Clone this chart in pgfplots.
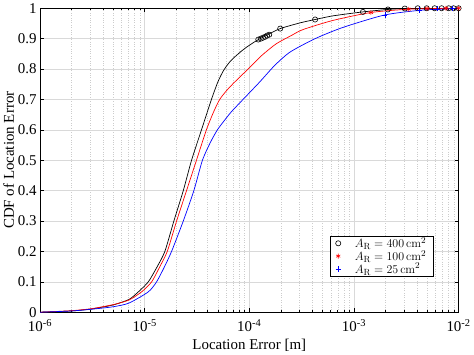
\documentclass[border=0pt]{standalone}
\usepackage[no-math]{fontspec}
\setmainfont{Liberation Serif}
\usepackage{pgfplots}
\pgfplotsset{compat=1.18}
\usepackage{pgfplotstable}

\pgfplotstableread{
lx v
-6.0 0.0
-5.7 0.004
-5.5 0.011
-5.3 0.024
-5.15 0.042
-5.06 0.067
-4.965 0.10
-4.88 0.15
-4.807 0.20
-4.721 0.30
-4.631 0.40
-4.552 0.50
-4.457 0.60
-4.362 0.70
-4.30 0.758
-4.25 0.793
-4.20 0.818
-4.155 0.835
-4.05 0.866
-3.933 0.893
-3.83 0.912
-3.705 0.933
-3.514 0.952
-3.371 0.963
-3.2 0.975
-2.914 0.988
-2.676 0.996
-2.514 0.999
-2.0 1.0
}\blk

\pgfplotstableread{
lx v
-6.0 0.0
-5.7 0.005
-5.5 0.012
-5.3 0.025
-5.15 0.040
-5.029 0.067
-4.933 0.10
-4.855 0.15
-4.784 0.20
-4.695 0.30
-4.600 0.40
-4.505 0.50
-4.410 0.60
-4.340 0.66
-4.283 0.70
-4.22 0.728
-4.155 0.752
-4.012 0.80
-3.88 0.845
-3.743 0.883
-3.60 0.910
-3.486 0.930
-3.2 0.960
-2.838 0.986
-2.467 0.997
-2.0 1.0
}\red

\pgfplotstableread{
lx v
-6.0 0.0
-5.7 0.004
-5.5 0.010
-5.3 0.018
-5.15 0.030
-4.965 0.067
-4.886 0.10
-4.81 0.15
-4.743 0.20
-4.631 0.30
-4.530 0.40
-4.448 0.50
-4.370 0.56
-4.305 0.600
-4.24 0.630
-4.17 0.660
-4.06 0.700
-3.902 0.757
-3.757 0.812
-3.610 0.856
-3.371 0.900
-3.105 0.937
-2.705 0.978
-2.343 0.994
-2.0 0.999
}\blu

\pgfplotstableread{
lx v
-3.914 0.897
-3.89 0.900
-3.87 0.903
-3.85 0.906
-3.83 0.910
-3.81 0.913
-3.705 0.933
-3.371 0.963
-2.914 0.988
-2.676 0.996
-2.514 0.999
-2.390 1.0
-2.305 1.0
-2.229 1.0
-2.162 1.0
-2.095 1.0
-2.048 1.0
-2.0 1.0
}\blkm

\pgfplotstableread{
lx v
-2.838 0.986
-2.476 0.997
-2.30 0.999
-2.12 1.0
-2.0 1.0
}\redm

\pgfplotstableread{
lx v
-2.705 0.978
-2.376 0.994
-2.20 0.998
-2.06 0.999
}\blum

\begin{document}
\begin{tikzpicture}
\begin{axis}[
  scale only axis, width=420pt, height=305pt,
  xmode=log, xmin=1e-6, xmax=1e-2, ymin=0, ymax=1,
  xtick={1e-6,1e-5,1e-4,1e-3,1e-2},
  xticklabels={10\textsuperscript{-6},10\textsuperscript{-5},10\textsuperscript{-4},10\textsuperscript{-3},10\textsuperscript{-2}},
  ytick={0,0.1,0.2,0.3,0.4,0.5,0.6,0.7,0.8,0.9,1},
  yticklabels={0,0.1,0.2,0.3,0.4,0.5,0.6,0.7,0.8,0.9,1},
  xmajorgrids, ymajorgrids, xminorgrids,
  major grid style={black!15, line width=0.4pt},
  minor grid style={black!20, dotted, line width=0.4pt},
  tick align=inside, xtick pos=both, ytick pos=both,
  major tick length=4pt, minor tick length=2.2pt,
  axis line style={line width=0.6pt},
  every tick/.style={black, line width=0.5pt},
  tick label style={font=\fontsize{15}{17}\selectfont},
  label style={font=\fontsize{15}{17}\selectfont},
  xticklabel style={yshift=-4pt},
  xlabel={Location Error [m]}, ylabel={CDF of Location Error},
  xlabel style={yshift=0pt}, ylabel style={yshift=-3pt},
  legend style={at={(0.94,0.117)}, anchor=south east, draw=black, line width=0.6pt,
    font=\fontsize{13}{14}\selectfont, inner xsep=5pt, inner ysep=1pt, row sep=0pt,
    nodes={inner ysep=0.6pt},
    /tikz/every odd column/.append style={column sep=12pt}},
  legend cell align=left,
]
\addplot[black, line width=0.7pt, smooth, tension=0.4, forget plot] table[x expr={10^(\thisrow{lx})}, y=v]{\blk};
\addplot[red, line width=0.7pt, smooth, tension=0.4, forget plot] table[x expr={10^(\thisrow{lx})}, y=v]{\red};
\addplot[blue, line width=0.7pt, smooth, tension=0.4, forget plot] table[x expr={10^(\thisrow{lx})}, y=v]{\blu};
\addplot[black, only marks, mark=o, mark size=2.6pt, line width=0.6pt] table[x expr={10^(\thisrow{lx})}, y=v]{\blkm};
\addplot[red, only marks, mark=asterisk, mark size=2.4pt, line width=0.6pt] table[x expr={10^(\thisrow{lx})}, y=v]{\redm};
\addplot[blue, only marks, mark=+, mark size=2.6pt, line width=0.6pt] table[x expr={10^(\thisrow{lx})}, y=v]{\blum};
\legend{$A_\mathrm{R} = 400\,\mathrm{cm}^2$, $A_\mathrm{R} = 100\,\mathrm{cm}^2$, $A_\mathrm{R} = 25\,\mathrm{cm}^2$}
\end{axis}
\end{tikzpicture}
\end{document}
